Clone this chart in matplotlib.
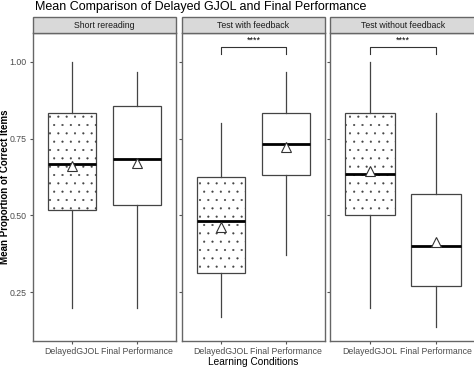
import matplotlib
matplotlib.use('Agg')
import matplotlib.pyplot as plt
from matplotlib.patches import Rectangle

plt.rcParams['font.family'] = ['Liberation Sans', 'DejaVu Sans']
plt.rcParams['hatch.linewidth'] = 0.3
plt.rcParams['hatch.color'] = '#999999'

panels = ['Short rereading', 'Test with feedback', 'Test without feedback']
groups = ['DelayedGJOL', 'Final Performance']
# per panel: [DelayedGJOL, Final Performance]
whislo = [[0.20, 0.20], [0.168, 0.37], [0.20, 0.136]]
q1 = [[0.518, 0.534], [0.312, 0.632], [0.50, 0.27]]
med = [[0.667, 0.684], [0.482, 0.733], [0.635, 0.40]]
q3 = [[0.834, 0.857], [0.625, 0.834], [0.834, 0.57]]
whishi = [[1.00, 0.967], [0.80, 0.967], [1.00, 0.834]]
means = [[0.662, 0.671], [0.462, 0.722], [0.645, 0.413]]
signif = [None, '****', '****']
bracket_y = 1.05

W, H = 474, 368
fig = plt.figure(figsize=(W / 100, H / 100), dpi=100)

panel_x = [(33, 176), (182, 325), (330, 476)]
top, bottom = 33, 341
strip_top = 17

for i, (x0, x1) in enumerate(panel_x):
    ax = fig.add_axes([x0 / W, 1 - bottom / H, (x1 - x0) / W, (bottom - top) / H])
    stats = []
    for j in range(2):
        stats.append(dict(whislo=whislo[i][j], q1=q1[i][j], med=med[i][j],
                          q3=q3[i][j], whishi=whishi[i][j], mean=means[i][j],
                          fliers=[]))
    bp = ax.bxp(stats, positions=[1, 2], widths=0.75, patch_artist=True,
                showmeans=True, showcaps=False,
                boxprops=dict(edgecolor='#444444', linewidth=0.9),
                whiskerprops=dict(color='#444444', linewidth=0.9),
                medianprops=dict(color='black', linewidth=2),
                meanprops=dict(marker='^', markerfacecolor='white',
                               markeredgecolor='#333333', markersize=7.5,
                               markeredgewidth=0.8))
    bp['boxes'][0].set_facecolor('white')
    bp['boxes'][0].set_hatch('..')
    bp['boxes'][1].set_facecolor('white')

    ax.set_xlim(0.4, 2.6)
    ax.set_ylim(0.091, 1.094)
    ax.set_xticks([1, 2])
    ax.set_xticklabels(groups, fontsize=6.3, color='#4d4d4d')
    ax.set_yticks([0.25, 0.5, 0.75, 1.0])
    if i == 0:
        ax.set_yticklabels(['0.25', '0.50', '0.75', '1.00'], fontsize=6.3, color='#4d4d4d')
    else:
        ax.tick_params(axis='y', length=0)
        ax.set_yticklabels([])
    ax.tick_params(axis='both', color='#555555', length=2.5, width=0.8, pad=2)
    for s in ax.spines.values():
        s.set_color('#666666')
        s.set_linewidth(1)

    if signif[i]:
        ax.plot([1, 1, 2, 2], [bracket_y - 0.025, bracket_y, bracket_y, bracket_y - 0.025],
                color='#333333', lw=0.8)
        ax.text(1.5, bracket_y + 0.005, signif[i], ha='center', va='bottom', fontsize=6.5)

    # facet strip
    fig.patches.append(Rectangle((x0 / W, 1 - top / H), (x1 - x0) / W, (top - strip_top) / H,
                                 transform=fig.transFigure, facecolor='#d9d9d9',
                                 edgecolor='#666666', linewidth=1))
    fig.text((x0 + x1) / 2 / W, 1 - (top + strip_top) / 2 / H, panels[i],
             ha='center', va='center', fontsize=6.3, color='#1a1a1a')

fig.text(35 / W, 1 - 7 / H, 'Mean Comparison of Delayed GJOL and Final Performance',
         ha='left', va='center', fontsize=9)
fig.text(5 / W, 1 - 187 / H, 'Mean Proportion of Correct Items', ha='center', va='center',
         rotation=90, fontsize=7, fontweight='semibold')
fig.text(253 / W, 1 - 362 / H, 'Learning Conditions', ha='center', va='center', fontsize=7.3)

fig.savefig('out.png', dpi=100)
